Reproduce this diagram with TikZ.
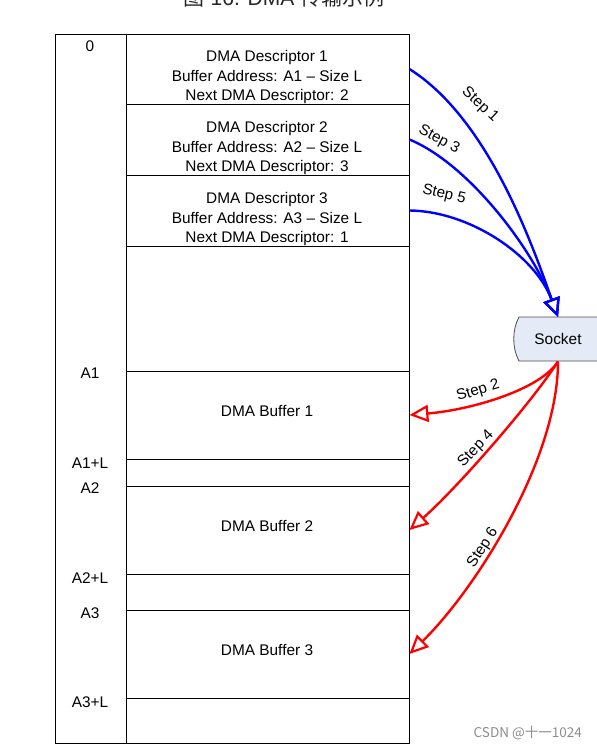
\documentclass[tikz,border=0pt]{standalone}
\usepackage{fontspec}
\setmainfont{Liberation Sans}
\newfontfamily\cjk{Noto Sans CJK SC}
\usetikzlibrary{arrows.meta}
\definecolor{sockfill}{HTML}{E4EBF6}
\begin{document}
\begin{tikzpicture}[x=1pt,y=-1pt,
  cell/.style={draw=black, line width=0.8pt, minimum width=283pt, inner sep=0pt},
  desc/.style={font=\fontsize{15.4}{19.2}\selectfont, align=center, inner sep=0pt, anchor=north},
  lbl/.style={font=\fontsize{15.4}{18}\selectfont, inner sep=0pt},
  steplbl/.style={font=\fontsize{15.2}{18}\selectfont, inner sep=0pt},
  tipstyle/.style={-{Triangle[open, length=19pt, width=17pt, line width=2.2pt]}},
  bluearrow/.style={draw=blue, line width=2.4pt, tipstyle},
  redarrow/.style={draw=red, line width=2.4pt, tipstyle}]
\useasboundingbox (0,0) rectangle (597,750);
\clip (0,0) rectangle (597,750);
% caption (cut off at the top)
\node[anchor=base, inner sep=0pt, text=black!85, font=\fontsize{21}{24}\selectfont] (cap) at (284,5.5) {{\cjk 图} 16. DMA {\cjk 传输示例}};
% memory map
\draw[line width=0.8pt] (55,34) rectangle (409,743);
\draw[line width=0.8pt] (126,34) -- (126,743);
\node[cell, minimum height=70pt] (d1) at (267.5,69) {};
\node[cell, minimum height=71pt] (d2) at (267.5,139.5) {};
\node[cell, minimum height=71pt] (d3) at (267.5,210.5) {};
\node[cell, minimum height=88pt] (b1) at (267.5,415) {};
\node[cell, minimum height=88pt] (b2) at (267.5,530) {};
\node[cell, minimum height=88pt] (b3) at (267.5,654) {};
\node[desc] (t1) at (267,50.5) {DMA Descriptor 1\\Buffer Address: A1 -- Size L\\Next DMA Descriptor: 2};
\node[desc] (t2) at (267,121.5) {DMA Descriptor 2\\Buffer Address: A2 -- Size L\\Next DMA Descriptor: 3};
\node[desc] (t3) at (267,192.5) {DMA Descriptor 3\\Buffer Address: A3 -- Size L\\Next DMA Descriptor: 1};
\node[lbl] (tb1) at (267,411) {DMA Buffer 1};
\node[lbl] (tb2) at (267,526) {DMA Buffer 2};
\node[lbl] (tb3) at (267,650) {DMA Buffer 3};
% addresses
\node[lbl] (a0) at (90,46) {0};
\node[lbl] (a1) at (90,373) {A1};
\node[lbl] (a1l) at (90,463) {A1+L};
\node[lbl] (a2) at (90,488) {A2};
\node[lbl] (a2l) at (90,578) {A2+L};
\node[lbl] (a3) at (90,613) {A3};
\node[lbl] (a3l) at (90,702) {A3+L};
% socket
\draw[draw=black!70, line width=0.8pt, fill=sockfill] (610,317) -- (519,317) .. controls (512,330) and (512,348) .. (519,361) -- (610,361);
\node[lbl] (sock) at (558,339) {Socket};
\coordinate (stop) at (558,317);
\coordinate (sbot) at (558,361.5);
% blue arrows
\draw[bluearrow] (d1.east) .. controls (489,119) and (533,247) .. (stop);
\draw[bluearrow] (d2.east) .. controls (469,164) and (533,250) .. (stop);
\draw[bluearrow] (d3.east) .. controls (469,211) and (535,255) .. (stop);
% red arrows
\draw[redarrow] (sbot) .. controls (540,390) and (470,410) .. (b1.east);
\draw[redarrow] (sbot) .. controls (530,405) and (455,490) .. (b2.east);
\draw[redarrow] (sbot) .. controls (558,460) and (475,590) .. (b3.east);
% step labels
\node[steplbl, rotate=-43] (s1) at (480,105) {Step 1};
\node[steplbl, rotate=-28] (s3) at (439,140) {Step 3};
\node[steplbl, rotate=-13] (s5) at (444,195) {Step 5};
\node[steplbl, rotate=17] (s2) at (478,391) {Step 2};
\node[steplbl, rotate=46] (s4) at (476,449) {Step 4};
\node[steplbl, rotate=57] (s6) at (483,548) {Step 6};
% watermark
\node[anchor=east, inner sep=0pt, text=black!45, font=\cjk\fontsize{13.5}{16}\selectfont] (wm) at (582,733) {CSDN @十一1024};
\end{tikzpicture}
\end{document}
